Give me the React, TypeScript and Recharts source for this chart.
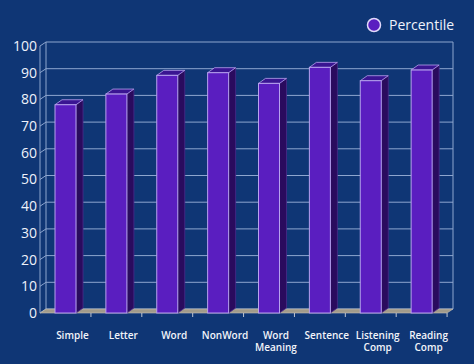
import React from "react";
import {
  Bar,
  BarChart,
  CartesianGrid,
  Legend,
  ReferenceArea,
  XAxis,
  YAxis,
} from "recharts";

const categories = [
  "Simple",
  "Letter",
  "Word",
  "NonWord",
  "Word Meaning",
  "Sentence",
  "Listening Comp",
  "Reading Comp",
];
const percentile = [78, 82, 89, 90, 86, 92, 87, 91];
const yTicks = [0, 10, 20, 30, 40, 50, 60, 70, 80, 90, 100];

const data = categories.map((name, i) => ({ name, percentile: percentile[i] }));

const BG = "#0f3675";
const GRID = "#8ea6cf";
const WALL_DX = 6;
const WALL_DY = 4;
const BAR_DX = 7;
const BAR_DY = 5;
const FONT = "'Open Sans', 'DejaVu Sans', sans-serif";

function Bar3D(props: any) {
  const { x, y, width, height } = props;
  if (!height) return null;
  const r = x + width;
  const b = y + height;
  return (
    <g>
      <polygon
        points={`${r},${y} ${r + BAR_DX},${y - BAR_DY} ${r + BAR_DX},${b - BAR_DY} ${r},${b}`}
        fill="#2a0b5e"
        stroke="#4a2b8a"
        strokeWidth={0.8}
      />
      <polygon
        points={`${x},${y} ${x + BAR_DX},${y - BAR_DY} ${r + BAR_DX},${y - BAR_DY} ${r},${y}`}
        fill="#3a1592"
        stroke="#b7a2ee"
        strokeWidth={0.8}
      />
      <rect x={x} y={y} width={width} height={height} fill="#5a1ec0" stroke="#b7a2ee" strokeWidth={1} />
    </g>
  );
}

// gridline on the back wall, with a slanted stub on the left side wall
function WallLine(props: any) {
  const { x1, y1, x2 } = props;
  return (
    <g>
      <line x1={x1} y1={y1} x2={x1 + WALL_DX} y2={y1 - WALL_DY} stroke={GRID} strokeWidth={1} />
      <line x1={x1 + WALL_DX} y1={y1 - WALL_DY} x2={x2 + WALL_DX} y2={y1 - WALL_DY} stroke={GRID} strokeWidth={1} />
    </g>
  );
}

function Frame(props: any) {
  const { x, y, width, height } = props;
  const b = y + height;
  const r = x + width;
  return (
    <g>
      <line x1={x + WALL_DX} y1={y - WALL_DY} x2={x + WALL_DX} y2={b - WALL_DY} stroke={GRID} />
      <line x1={r + WALL_DX} y1={y - WALL_DY} x2={r + WALL_DX} y2={b - WALL_DY} stroke={GRID} />
      <polygon
        points={`${x},${b} ${r},${b} ${r + WALL_DX},${b - WALL_DY} ${x + WALL_DX},${b - WALL_DY}`}
        fill="#a29b8b"
        stroke="#c9c4b8"
        strokeWidth={0.6}
      />
    </g>
  );
}

function CategoryTick(props: any) {
  const { x, y, payload } = props;
  const lines = String(payload.value).split(" ");
  return (
    <g>
      <line x1={x + 25.5} y1={y} x2={x + 25.5} y2={y + 4} stroke="#c0c6d2" />
      {lines.map((t, i) => (
        <text
          key={t}
          x={x + 7}
          y={y + 26 + i * 12}
          textAnchor="middle"
          fill="#f2f4fa"
          fontSize={10}
          fontWeight={600}
          fontFamily={FONT}
        >
          {t}
        </text>
      ))}
    </g>
  );
}

function LegendContent(props: any) {
  const item = props.payload?.[0];
  return (
    <div style={{ display: "flex", alignItems: "center", fontFamily: FONT }}>
      <svg width={16} height={16} style={{ marginRight: 7 }}>
        <circle cx={8} cy={8} r={6.5} fill="#5a1ec0" stroke="#e2dafa" strokeWidth={1.5} />
      </svg>
      <span style={{ color: "#eef2fb", fontSize: 14 }}>{item ? item.value : "Percentile"}</span>
    </div>
  );
}

export default function App() {
  return (
    <div style={{ position: "absolute", left: 0, top: 0, width: 474, height: 364, background: BG }}>
      <BarChart
        width={474}
        height={364}
        data={data}
        margin={{ top: 46, right: 27, bottom: 0, left: 0 }}
        barSize={21}
      >
        <CartesianGrid vertical={false} horizontal={(p: any) => <WallLine {...p} />} />
        <ReferenceArea y1={0} y2={100} shape={(p: any) => <Frame {...p} />} />
        <XAxis
          dataKey="name"
          height={51}
          axisLine={false}
          tickLine={false}
          tickSize={0}
          tickMargin={0}
          interval={0}
          tick={(p: any) => <CategoryTick {...p} />}
        />
        <YAxis
          domain={[0, 100]}
          ticks={yTicks}
          width={40}
          axisLine={{ stroke: GRID }}
          tickLine={false}
          tickSize={0}
          tickMargin={3}
          tick={{ fill: "#eef2fb", fontSize: 14, fontFamily: FONT }}
        />
        <Legend
          layout="horizontal"
          verticalAlign="middle"
          align="center"
          wrapperStyle={{ top: 15, left: 366, width: 100 }}
          content={(p: any) => <LegendContent {...p} />}
        />
        <Bar
          dataKey="percentile"
          name="Percentile"
          fill="#5a1ec0"
          shape={(p: any) => <Bar3D {...p} />}
          isAnimationActive={false}
        />
      </BarChart>
    </div>
  );
}
